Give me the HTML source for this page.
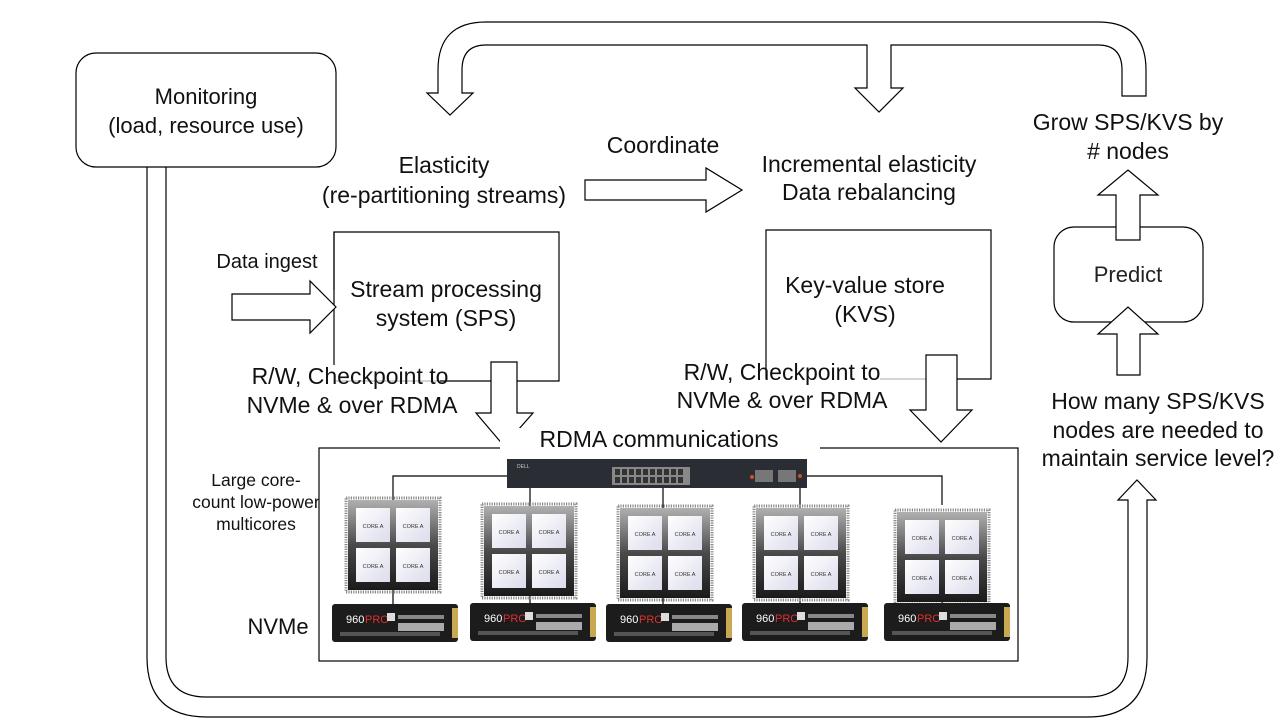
<!DOCTYPE html>
<html><head><meta charset="utf-8"><style>
html,body{margin:0;padding:0;background:#fff;}
svg{display:block;}
text{font-family:"Liberation Sans",Arial,sans-serif;fill:#111;}
</style></head><body>
<svg width="1280" height="720" viewBox="0 0 1280 720" xmlns="http://www.w3.org/2000/svg">
<defs>
<linearGradient id="chip" x1="0" y1="0" x2="0" y2="1">
<stop offset="0" stop-color="#b0b0b0"/><stop offset="0.5" stop-color="#4a4a4a"/><stop offset="1" stop-color="#1a1a1a"/>
</linearGradient>
<linearGradient id="core" x1="0" y1="0" x2="1" y2="1">
<stop offset="0" stop-color="#ffffff"/><stop offset="1" stop-color="#dcdcec"/>
</linearGradient>
<g id="chipg">
<rect x="-2" y="-2" width="94" height="94" fill="none" stroke="#888" stroke-width="3" stroke-dasharray="1.2 1.2"/>
<rect x="0" y="0" width="90" height="90" fill="url(#chip)"/>
<rect x="8" y="8" width="34" height="34" fill="url(#core)"/>
<rect x="48" y="8" width="34" height="34" fill="url(#core)"/>
<rect x="8" y="48" width="34" height="34" fill="url(#core)"/>
<rect x="48" y="48" width="34" height="34" fill="url(#core)"/>
<text x="25" y="28" font-size="5.5" text-anchor="middle" style="fill:#333">CORE A</text>
<text x="65" y="28" font-size="5.5" text-anchor="middle" style="fill:#333">CORE A</text>
<text x="25" y="68" font-size="5.5" text-anchor="middle" style="fill:#333">CORE A</text>
<text x="65" y="68" font-size="5.5" text-anchor="middle" style="fill:#333">CORE A</text>
</g>
<g id="ssd">
<rect x="0" y="0" width="126" height="38" rx="3" fill="#1c1c1c"/>
<rect x="120" y="4" width="6" height="30" fill="#c8a850"/>
<text x="14" y="19" font-size="11" style="fill:#fff">960</text>
<text x="33" y="19" font-size="11" style="fill:#e03030">PRO</text>
<rect x="55" y="9" width="8" height="8" fill="#ddd"/>
<rect x="66" y="11" width="46" height="4" fill="#888"/>
<rect x="66" y="19" width="46" height="8" fill="#aaa"/>
<rect x="8" y="28" width="100" height="4" fill="#555"/>
</g>
</defs>

<path d="M438,93 L438,70 Q438,22 486,22 L1098,22 Q1146,22 1146,70 L1146,96 L1122,96 L1122,70 Q1122,45 1098,45 L891,45 L891,88 L903,88 L879,112 L855,88 L867,88 L867,45 L486,45 Q462,45 462,70 L462,93 L473,93 L450,115 L427,93 Z" fill="#fff" stroke="#000" stroke-width="1.2"/>

<path d="M147,167 L147,657 Q147,717 207,717 L1087,717 Q1147,717 1147,657 L1147,500 L1156,500 L1137,480 L1118,500 L1128,500 L1128,657 Q1128,697 1088,697 L206,697 Q166,697 166,657 L166,167" fill="#fff" stroke="#000" stroke-width="1.2"/>

<rect x="76" y="53" width="260" height="114" rx="20" fill="#fff" stroke="#000" stroke-width="1.2"/>
<text x="206" y="104" font-size="22" text-anchor="middle">Monitoring</text>
<text x="206" y="133" font-size="22" text-anchor="middle">(load, resource use)</text>

<text x="444" y="173" font-size="23" text-anchor="middle">Elasticity</text>
<text x="444" y="203" font-size="23" text-anchor="middle">(re-partitioning streams)</text>
<text x="663" y="153" font-size="23" text-anchor="middle">Coordinate</text>
<text x="869" y="172" font-size="23" text-anchor="middle">Incremental elasticity</text>
<text x="869" y="200" font-size="23" text-anchor="middle">Data rebalancing</text>
<text x="1128" y="130" font-size="23" text-anchor="middle">Grow SPS/KVS by</text>
<text x="1128" y="159" font-size="23" text-anchor="middle"># nodes</text>

<path d="M585,180 L706,180 L706,168 L742,190 L706,212 L706,200 L585,200 Z" fill="#fff" stroke="#000" stroke-width="1.2"/>

<path d="M334,290 L334,232 L559,232 L559,381 L440,381" fill="none" stroke="#000" stroke-width="1.2"/>
<line x1="334" y1="232" x2="334" y2="365" stroke="#000" stroke-width="1.2"/>
<line x1="334" y1="381" x2="440" y2="381" stroke="#aaa" stroke-width="1"/>
<text x="446" y="297" font-size="23" text-anchor="middle">Stream processing</text>
<text x="446" y="326" font-size="23" text-anchor="middle">system (SPS)</text>
<text x="267" y="268" font-size="20" text-anchor="middle">Data ingest</text>
<path d="M232,294 L310,294 L310,281 L336,307 L310,333 L310,320 L232,320 Z" fill="#fff" stroke="#000" stroke-width="1.2"/>
<path d="M491,362 L517,362 L517,413 L533,413 L504,446 L476,413 L491,413 Z" fill="#fff" stroke="#000" stroke-width="1.2"/>
<text x="350" y="384" font-size="23" text-anchor="middle">R/W, Checkpoint to</text>
<text x="352" y="413" font-size="23" text-anchor="middle">NVMe &amp; over RDMA</text>

<path d="M766,379 L766,230 L991,230 L991,379 L957,379" fill="none" stroke="#000" stroke-width="1.2"/>
<line x1="880" y1="379" x2="926" y2="379" stroke="#aaa" stroke-width="1"/>
<text x="865" y="293" font-size="23" text-anchor="middle">Key-value store</text>
<text x="865" y="322" font-size="23" text-anchor="middle">(KVS)</text>
<path d="M926,355 L957,355 L957,410 L972,410 L941,442 L910,410 L926,410 Z" fill="#fff" stroke="#000" stroke-width="1.2"/>
<text x="782" y="380" font-size="23" text-anchor="middle">R/W, Checkpoint to</text>
<text x="782" y="408" font-size="23" text-anchor="middle">NVMe &amp; over RDMA</text>

<rect x="1054" y="227" width="149" height="95" rx="20" fill="#fff" stroke="#000" stroke-width="1.2"/>
<text x="1128" y="282" font-size="22" text-anchor="middle" style="fill:#222">Predict</text>
<path d="M1116,240 L1140,240 L1140,195 L1158,195 L1128,170 L1098,195 L1116,195 Z" fill="#fff" stroke="#000" stroke-width="1.2"/>
<path d="M1117,375 L1140,375 L1140,334 L1158,334 L1128,307 L1098,334 L1117,334 Z" fill="#fff" stroke="#000" stroke-width="1.2"/>
<text x="1158" y="409" font-size="23" text-anchor="middle">How many SPS/KVS</text>
<text x="1158" y="438" font-size="23" text-anchor="middle">nodes are needed to</text>
<text x="1158" y="466" font-size="23" text-anchor="middle">maintain service level?</text>

<rect x="319" y="448" width="699" height="213" fill="none" stroke="#000" stroke-width="1.2"/>
<rect x="500" y="428" width="320" height="22" fill="#fff"/>
<text x="659" y="447" font-size="23" text-anchor="middle">RDMA communications</text>
<text x="256" y="486" font-size="17.5" text-anchor="middle">Large core-</text>
<text x="256" y="508" font-size="17.5" text-anchor="middle">count low-power</text>
<text x="256" y="530" font-size="17.5" text-anchor="middle">multicores</text>
<text x="278" y="634" font-size="22" text-anchor="middle">NVMe</text>

<g stroke="#000" stroke-width="1.2" fill="none">
<path d="M393,500 L393,476 L507,476"/>
<path d="M807,476 L942,476 L942,505"/>
<line x1="530" y1="488" x2="530" y2="605"/>
<line x1="663" y1="488" x2="663" y2="605"/>
<line x1="800" y1="488" x2="800" y2="605"/>
<line x1="393" y1="590" x2="393" y2="605"/>
<line x1="942" y1="590" x2="942" y2="605"/>
</g>

<rect x="507" y="459" width="300" height="29" fill="#2a2d33"/>
<text x="517" y="468" font-size="5" style="fill:#ccc">DELL</text>
<rect x="612" y="467" width="78" height="18" fill="#888"/>
<g fill="#333">
<rect x="615" y="469" width="5" height="6"/><rect x="622" y="469" width="5" height="6"/><rect x="629" y="469" width="5" height="6"/><rect x="636" y="469" width="5" height="6"/><rect x="643" y="469" width="5" height="6"/><rect x="650" y="469" width="5" height="6"/><rect x="657" y="469" width="5" height="6"/><rect x="664" y="469" width="5" height="6"/><rect x="671" y="469" width="5" height="6"/><rect x="678" y="469" width="5" height="6"/>
<rect x="615" y="477" width="5" height="6"/><rect x="622" y="477" width="5" height="6"/><rect x="629" y="477" width="5" height="6"/><rect x="636" y="477" width="5" height="6"/><rect x="643" y="477" width="5" height="6"/><rect x="650" y="477" width="5" height="6"/><rect x="657" y="477" width="5" height="6"/><rect x="664" y="477" width="5" height="6"/><rect x="671" y="477" width="5" height="6"/><rect x="678" y="477" width="5" height="6"/>
</g>
<rect x="755" y="470" width="18" height="12" fill="#777"/>
<rect x="778" y="470" width="18" height="12" fill="#777"/>
<circle cx="752" cy="477" r="2" fill="#d05020"/>
<circle cx="800" cy="476" r="2" fill="#d05020"/>

<use href="#chipg" x="348" y="500"/>
<use href="#chipg" x="484" y="506"/>
<use href="#chipg" x="620" y="508"/>
<use href="#chipg" x="756" y="508"/>
<use href="#chipg" x="897" y="512"/>

<use href="#ssd" x="332" y="604"/>
<use href="#ssd" x="470" y="603"/>
<use href="#ssd" x="606" y="604"/>
<use href="#ssd" x="742" y="603"/>
<use href="#ssd" x="884" y="603"/>
</svg>
</body></html>
